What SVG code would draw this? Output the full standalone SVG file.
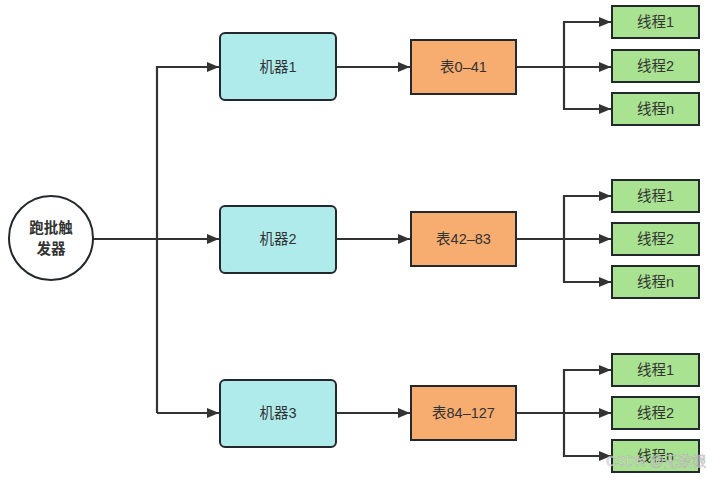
<svg xmlns="http://www.w3.org/2000/svg" width="723" height="480" viewBox="0 0 723 480">
<style>
.ln{fill:none;stroke:#333;stroke-width:2.2}
.m{fill:#b0ebeb;stroke:#23282d;stroke-width:2}
.t{fill:#f7ac70;stroke:#23282d;stroke-width:2}
.th{fill:#a9e291;stroke:#23282d;stroke-width:2}
text{font-family:"Liberation Sans","Noto Sans CJK SC",sans-serif;font-size:14.5px;fill:#333;text-anchor:middle;dominant-baseline:central}
</style>
<defs>
<marker id="ah" viewBox="0 0 12 10" refX="12" refY="5" markerWidth="12" markerHeight="10" markerUnits="userSpaceOnUse" orient="auto">
<path d="M0,0 L12,5 L0,10 Z" fill="#333"/>
</marker>
</defs>
<rect width="723" height="480" fill="#fff"/>
<g id="connectors">
<path class="ln" d="M93,239 H219" marker-end="url(#ah)"/>
<path class="ln" d="M157,413 V67 H219" marker-end="url(#ah)"/>
<path class="ln" d="M157,413 H219" marker-end="url(#ah)"/>
<path class="ln" d="M337,67 H410" marker-end="url(#ah)"/>
<path class="ln" d="M337,239 H410" marker-end="url(#ah)"/>
<path class="ln" d="M337,413 H410" marker-end="url(#ah)"/>
<path class="ln" d="M517,67 H611" marker-end="url(#ah)"/>
<path class="ln" d="M564,67 V22 H611" marker-end="url(#ah)"/>
<path class="ln" d="M564,67 V109 H611" marker-end="url(#ah)"/>
<path class="ln" d="M517,239 H611" marker-end="url(#ah)"/>
<path class="ln" d="M564,239 V196 H611" marker-end="url(#ah)"/>
<path class="ln" d="M564,239 V282 H611" marker-end="url(#ah)"/>
<path class="ln" d="M517,413 H611" marker-end="url(#ah)"/>
<path class="ln" d="M564,413 V370 H611" marker-end="url(#ah)"/>
<path class="ln" d="M564,413 V456 H611" marker-end="url(#ah)"/>
</g>
<g id="trigger">
<circle cx="51" cy="238" r="42" fill="#fff" stroke="#23282d" stroke-width="2"/>
<text x="51" y="228" font-weight="bold">跑批触</text>
<text x="51" y="249" font-weight="bold">发器</text>
</g>
<g id="machine1"><rect class="m" x="220" y="33" width="116" height="67" rx="5"/><text x="278" y="67">机器1</text></g>
<g id="machine2"><rect class="m" x="220" y="206" width="116" height="67" rx="5"/><text x="278" y="239">机器2</text></g>
<g id="machine3"><rect class="m" x="220" y="380" width="116" height="67" rx="5"/><text x="278" y="413">机器3</text></g>
<g id="table1"><rect class="t" x="411" y="40" width="105" height="54"/><text x="463.5" y="67">表0–41</text></g>
<g id="table2"><rect class="t" x="411" y="212" width="105" height="54"/><text x="463.5" y="239">表42–83</text></g>
<g id="table3"><rect class="t" x="411" y="386" width="105" height="54"/><text x="463.5" y="413">表84–127</text></g>
<g id="g1t1"><rect class="th" x="612" y="6" width="87" height="32"/><text x="655.5" y="22">线程1</text></g>
<g id="g1t2"><rect class="th" x="612" y="50" width="87" height="32"/><text x="655.5" y="66">线程2</text></g>
<g id="g1tn"><rect class="th" x="612" y="93" width="87" height="32"/><text x="655.5" y="109">线程n</text></g>
<g id="g2t1"><rect class="th" x="612" y="180" width="87" height="32"/><text x="655.5" y="196">线程1</text></g>
<g id="g2t2"><rect class="th" x="612" y="223" width="87" height="32"/><text x="655.5" y="239">线程2</text></g>
<g id="g2tn"><rect class="th" x="612" y="266" width="87" height="32"/><text x="655.5" y="282">线程n</text></g>
<g id="g3t1"><rect class="th" x="612" y="354" width="87" height="32"/><text x="655.5" y="370">线程1</text></g>
<g id="g3t2"><rect class="th" x="612" y="397" width="87" height="32"/><text x="655.5" y="413">线程2</text></g>
<g id="g3tn"><rect class="th" x="612" y="440" width="87" height="32"/><text x="655.5" y="456">线程n</text></g>
<text x="656" y="461" style="font-size:14px;fill:#ffffff;fill-opacity:0.6;stroke:#aaa;stroke-width:0.5">CSDN @无敌银</text>
</svg>
